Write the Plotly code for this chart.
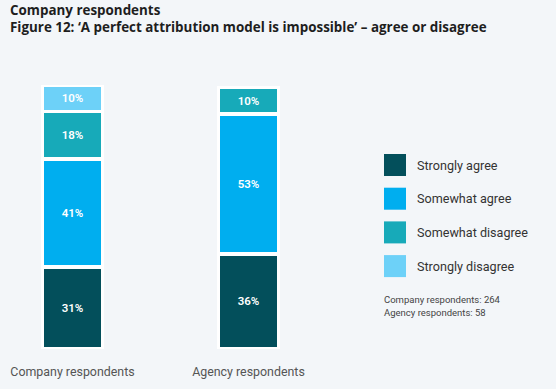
import plotly.graph_objects as go

categories = ["Company respondents", "Agency respondents"]
series_names = ["Strongly agree", "Somewhat agree", "Somewhat disagree", "Strongly disagree"]
strongly_agree = [31, 36]
somewhat_agree = [41, 53]
somewhat_disagree = [18, 10]
strongly_disagree = [10, 0]
colors = ["#034f5b", "#00aeef", "#17aab9", "#6dd1f8"]
base_notes = ["Company respondents: 264", "Agency respondents: 58"]

values = [strongly_agree, somewhat_agree, somewhat_disagree, strongly_disagree]

W, H = 556, 389
L, R, T, B = 10, 10, 85, 40
plot_w = W - L - R

fig = go.Figure()
for name, vals, col in zip(series_names, values, colors):
    fig.add_trace(go.Bar(
        x=categories, y=[v if v > 0 else None for v in vals], name=name,
        marker=dict(color=col, line=dict(color="white", width=3.5)),
        width=0.34,
        texttemplate="%{y}%", textposition="inside", insidetextanchor="middle",
        textfont=dict(color="white", size=11.5, family="Roboto", weight=600),
        textangle=0, showlegend=False, hoverinfo="skip",
    ))

# manual legend (large square swatches)
def px_x(px):
    return (px - L) / plot_w

def px_y(py):
    return 1 - (py - T) / (H - T - B)

shapes, annotations = [], []
for i, (name, col) in enumerate(zip(series_names, colors)):
    cy = 165 + i * 33.7
    shapes.append(dict(type="rect", xref="paper", yref="paper",
                       x0=px_x(384), x1=px_x(406), y0=px_y(cy + 11), y1=px_y(cy - 11),
                       fillcolor=col, line=dict(width=0)))
    annotations.append(dict(xref="paper", yref="paper", x=px_x(415), y=px_y(cy),
                            xanchor="left", yanchor="middle", text=name, showarrow=False,
                            font=dict(size=12.6, color="#333333", family="Roboto")))
for j, note in enumerate(base_notes):
    annotations.append(dict(xref="paper", yref="paper", x=px_x(382), y=px_y(299 + j * 13),
                            xanchor="left", yanchor="middle", text=note, showarrow=False,
                            font=dict(size=9.5, color="#444444", family="Roboto")))

annotations.append(dict(xref="paper", yref="paper", x=px_x(8), y=px_y(-1), xanchor="left",
                        yanchor="top", align="left", showarrow=False,
                        text="<b>Company respondents</b><br><b>Figure 12: ‘A perfect attribution model is impossible’ – agree or disagree</b>",
                        font=dict(size=13.4, color="#1e1e1e", family="Open Sans")))

fig.update_layout(
    barmode="stack",
    width=W, height=H,
    margin=dict(l=L, r=R, t=T, b=B),
    paper_bgcolor="#f3f6f9", plot_bgcolor="rgba(0,0,0,0)",
    xaxis=dict(range=[-0.355, -0.355 + plot_w / 176], showgrid=False, zeroline=False,
               showline=False, ticks="", ticklabelstandoff=14, fixedrange=True,
               tickfont=dict(size=12.4, color="#555555", family="Roboto")),
    yaxis=dict(range=[0, 100], visible=False, fixedrange=True),
    shapes=shapes, annotations=annotations,
    uniformtext=dict(mode="show", minsize=8),
)

fig.write_html("out.html", config={"displayModeBar": False},
               post_script="document.body.style.margin='0';document.body.style.background='#f3f6f9';")
